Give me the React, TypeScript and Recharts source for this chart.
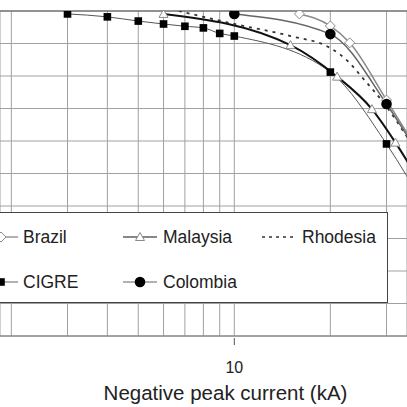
import React from 'react';
import { LineChart, Line, XAxis, YAxis, CartesianGrid, ReferenceLine } from 'recharts';

// peak current (kA) and cumulative probability (%)
const brazilX = [16, 20, 23, 30, 40];
const brazilY = [99.1, 95.4, 90.2, 72.6, 52.9];

const malaysiaX = [6, 15, 21, 27, 32, 40];
const malaysiaY = [99.1, 89.5, 79.8, 69.8, 59.5, 44];

const rhodesiaX = [6.7, 8, 10, 15, 20, 23, 25, 30, 35, 40];
const rhodesiaY = [100, 98.2, 96.0, 92.3, 88.6, 84.0, 79.9, 70.6, 60.9, 52.3];

const cigreX = [3, 4, 5, 6, 7, 8, 9, 10, 20, 30, 40];
const cigreY = [99.1, 98.2, 96.9, 96.0, 95.3, 94.8, 93.1, 92.3, 81.2, 59.1, 39];

const colombiaX = [10, 20, 30, 40];
const colombiaY = [99.1, 92.9, 71.4, 52];

const xTicks = [2, 3, 4, 5, 6, 7, 8, 9, 10, 20, 30];
const xLabelTicks = [10];
const yTicks = [0, 10, 20, 30, 40, 50, 60, 70, 80, 90, 100];

const toPoints = (xs: number[], ys: number[]) => xs.map((x, i) => ({ x, y: ys[i] }));

const brazil = toPoints(brazilX, brazilY);
const malaysia = toPoints(malaysiaX, malaysiaY);
const rhodesia = toPoints(rhodesiaX, rhodesiaY);
const cigre = toPoints(cigreX, cigreY);
const colombia = toPoints(colombiaX, colombiaY);

const FONT = '"Liberation Sans", Arial, sans-serif';

const Diamond = ({ cx, cy, k }: any) => (
  <path key={k} d={`M${cx},${cy - 5} L${cx + 5},${cy} L${cx},${cy + 5} L${cx - 5},${cy} Z`} fill="#fff" stroke="#8a8a8a" strokeWidth={1} />
);
const Triangle = ({ cx, cy, k }: any) => (
  <path key={k} d={`M${cx},${cy - 4.5} L${cx + 4.5},${cy + 3.5} L${cx - 4.5},${cy + 3.5} Z`} fill="#fff" stroke="#8a8a8a" strokeWidth={1} />
);
const Square = ({ cx, cy, k }: any) => (
  <rect key={k} x={cx - 3.8} y={cy - 3.8} width={7.6} height={7.6} fill="#000" />
);
const Dot = ({ cx, cy, k }: any) => <circle key={k} cx={cx} cy={cy} r={5.3} fill="#000" />;

const dotOf = (Shape: any) => (p: any) => <Shape key={`${p.dataKey}-${p.index}`} k={p.index} cx={p.cx} cy={p.cy} />;

const XTick = (props: any) => {
  const { x, y, payload } = props;
  if (!xLabelTicks.includes(payload.value)) return <g />;
  return (
    <g>
      <line x1={x} y1={y} x2={x} y2={y + 7} stroke="#555" />
      <text x={x} y={y + 35} textAnchor="middle" fontSize={16} fill="#222" fontFamily={FONT}>
        {payload.value}
      </text>
    </g>
  );
};

const AxisTitle = (props: any) => {
  const vb = props.viewBox;
  return (
    <text x={vb.x + vb.width / 2 + 22} y={vb.y + 64} textAnchor="middle" fontSize={20.5} fill="#222" fontFamily={FONT}>
      Negative peak current  (kA)
    </text>
  );
};

const legendItems = [
  { name: 'Brazil', col: 0, row: 0 },
  { name: 'Malaysia', col: 1, row: 0 },
  { name: 'Rhodesia', col: 2, row: 0 },
  { name: 'CIGRE', col: 0, row: 1 },
  { name: 'Colombia', col: 1, row: 1 },
];
const colX = [1, 140, 278];
const textX = [23, 163, 302];
const rowY = [24, 69];

const LegendIcon = ({ name, cx, cy }: any) => {
  if (name === 'Rhodesia') {
    return <line x1={cx - 16} y1={cy} x2={cx + 16} y2={cy} stroke="#333" strokeWidth={1.5} strokeDasharray="3 4" />;
  }
  const stroke = name === 'Malaysia' ? '#111' : '#666';
  const line = <line x1={cx - 17} y1={cy} x2={cx + 17} y2={cy} stroke={stroke} strokeWidth={1.2} />;
  let m = null;
  if (name === 'Brazil') m = <Diamond cx={cx} cy={cy} />;
  if (name === 'Malaysia') m = <Triangle cx={cx} cy={cy} />;
  if (name === 'CIGRE') m = <Square cx={cx} cy={cy} />;
  if (name === 'Colombia') m = <Dot cx={cx} cy={cy} />;
  return (
    <g>
      {line}
      {m}
    </g>
  );
};

const ChartLegend = () => (
  <div
    style={{
      position: 'absolute',
      left: -20,
      top: 212,
      width: 408,
      height: 91,
      border: '1px solid #444',
      background: '#fff',
      boxSizing: 'border-box',
    }}
  >
    <svg width={408} height={89} style={{ position: 'absolute', left: 0, top: 0 }}>
      {legendItems.map((it) => (
        <g key={it.name}>
          <LegendIcon name={it.name} cx={colX[it.col] + 19} cy={rowY[it.row]} />
          <text x={textX[it.col] + 19} y={rowY[it.row] + 6} fontSize={17.5} fill="#222" fontFamily={FONT}>
            {it.name}
          </text>
        </g>
      ))}
    </svg>
  </div>
);

export default function App() {
  return (
    <div style={{ position: 'absolute', left: 0, top: 0, width: 407, height: 407, overflow: 'hidden', background: '#fff' }}>
      <LineChart width={407} height={407} margin={{ top: 11, right: 0, bottom: 0, left: 0 }}>
        <CartesianGrid stroke="#a0a0a0" strokeWidth={1} />
        <XAxis
          dataKey="x"
          type="number"
          scale="log"
          domain={[1.843, 34.78]}
          allowDataOverflow
          ticks={xTicks}
          tick={<XTick />}
          tickLine={false}
          tickSize={0}
          axisLine={{ stroke: '#777' }}
          height={71}
          interval={0}
          label={<AxisTitle />}
        />
        <YAxis type="number" domain={[0, 100]} ticks={yTicks} hide width={0} allowDataOverflow />
        <ReferenceLine y={100} stroke="#555" />
        <Line data={cigre} dataKey="y" type="monotone" stroke="#555" strokeWidth={1} dot={dotOf(Square)} activeDot={false} isAnimationActive={false} />
        <Line data={malaysia} dataKey="y" type="monotone" stroke="#111" strokeWidth={2} dot={dotOf(Triangle)} activeDot={false} isAnimationActive={false} />
        <Line data={rhodesia} dataKey="y" type="monotone" stroke="#333" strokeWidth={1.8} strokeDasharray="3 5" dot={false} activeDot={false} isAnimationActive={false} />
        <Line data={brazil} dataKey="y" type="monotone" stroke="#8a8a8a" strokeWidth={1.5} dot={dotOf(Diamond)} activeDot={false} isAnimationActive={false} />
        <Line data={colombia} dataKey="y" type="monotone" stroke="#666" strokeWidth={1.5} dot={dotOf(Dot)} activeDot={false} isAnimationActive={false} />
      </LineChart>
      <ChartLegend />
    </div>
  );
}
